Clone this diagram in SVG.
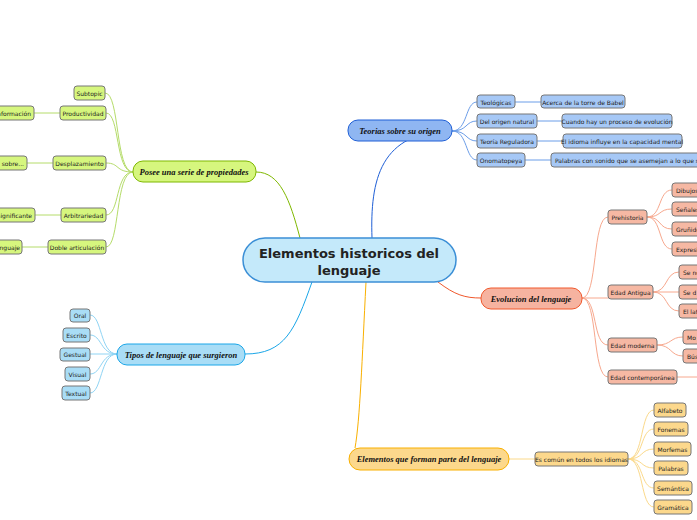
<svg xmlns="http://www.w3.org/2000/svg" width="697" height="520" viewBox="0 0 697 520">
<style>
.c{fill:none;stroke-width:1}
.t{font-family:"DejaVu Sans",sans-serif;font-size:6px;fill:#222;text-anchor:middle;dominant-baseline:central}
.s{text-anchor:start}.e{text-anchor:end}
.b{font-family:"Liberation Serif",serif;font-size:8.5px;font-style:italic;font-weight:bold;fill:#111;text-anchor:middle;dominant-baseline:central}
.n rect{stroke:#777;stroke-width:1}
.bl rect{fill:#a6c8f6}.gr rect{fill:#d6f67e}.lb rect{fill:#a9ddf6}.or rect{fill:#f6b8a3}.ye rect{fill:#fcd88c}
</style>
<rect width="697" height="520" fill="#fff"/>
<g id="connectors">
<path class="c" stroke="#1f5fd6" stroke-width="1.6" d="M372,238 C370,180 380,131 452,131"/>
<path class="c" stroke="#7fb800" stroke-width="1.6" d="M300,238 C290,200 280,172 256,172"/>
<path class="c" stroke="#1aa6e8" stroke-width="1.6" d="M312,282 C295,330 285,354 245,354"/>
<path class="c" stroke="#f0582c" stroke-width="1.6" d="M438,282 C455,295 465,298 481,298"/>
<path class="c" stroke="#f9b000" stroke-width="1.6" d="M366,282 C362,360 360,420 355,448"/>
<g stroke="#6b9de8">
<path class="c" d="M452,131 C468,131 465,102 477,102"/><path class="c" d="M452,131 C468,131 465,121 477,121"/><path class="c" d="M452,131 C468,131 465,141 477,141"/><path class="c" d="M452,131 C468,131 465,160 477,160"/>
<path class="c" d="M515,102 H541 M537,121 H562 M537,141 H563 M525,160 H551"/>
</g>
<g stroke="#b5dc6a">
<path class="c" d="M133,172 C115,172 120,93 105,93"/><path class="c" d="M133,172 C115,172 120,113 106,113"/><path class="c" d="M133,172 C115,172 120,163 106,163"/><path class="c" d="M133,172 C115,172 120,215 106,215"/><path class="c" d="M133,172 C115,172 120,247 106,247"/>
<path class="c" d="M34,113 H60 M27,163 H53 M35,215 H61 M22,247 H48"/>
</g>
<g stroke="#8fd4f4">
<path class="c" d="M117,354 C100,354 102,315 90,315"/><path class="c" d="M117,354 C100,354 102,335 90,335"/><path class="c" d="M117,354 H90"/><path class="c" d="M117,354 C100,354 102,374 90,374"/><path class="c" d="M117,354 C100,354 102,393 90,393"/>
</g>
<g stroke="#f7a88e">
<path class="c" d="M582,298 C598,298 592,217 608,217"/><path class="c" d="M582,298 H608"/><path class="c" d="M582,298 C598,298 592,345 608,345"/><path class="c" d="M582,298 C598,298 592,377 608,377"/>
<path class="c" d="M647,217 C662,217 658,190 672,190"/><path class="c" d="M647,217 C662,217 658,209 672,209"/><path class="c" d="M647,217 C662,217 658,229 672,229"/><path class="c" d="M647,217 C662,217 658,249 672,249"/>
<path class="c" d="M653,292 C668,292 665,272 679,272"/><path class="c" d="M653,292 H679"/><path class="c" d="M653,292 C668,292 665,311 679,311"/>
<path class="c" d="M657,345 C672,345 670,337 683,337"/><path class="c" d="M657,345 C672,345 670,356 683,356"/>
<path class="c" d="M677,377 H697"/>
</g>
<g stroke="#fbd98a">
<path class="c" d="M509,459 H535"/>
<path class="c" d="M628,459 C644,459 640,410 654,410"/><path class="c" d="M628,459 C644,459 640,429 654,429"/><path class="c" d="M628,459 C644,459 640,449 654,449"/><path class="c" d="M628,459 C644,459 640,468 654,468"/><path class="c" d="M628,459 C644,459 640,488 654,488"/><path class="c" d="M628,459 C644,459 640,507 654,507"/>
</g>
</g>
<g id="central"><rect x="243" y="238" width="213" height="44" rx="22" fill="#c4e9fa" stroke="#3b8fd6" stroke-width="1.5"/>
<text x="349" y="253" font-family="DejaVu Sans,sans-serif" font-size="13" font-weight="bold" fill="#222" text-anchor="middle" dominant-baseline="central">Elementos historicos del</text>
<text x="349" y="270" font-family="DejaVu Sans,sans-serif" font-size="13" font-weight="bold" fill="#222" text-anchor="middle" dominant-baseline="central">lenguaje</text></g>
<g id="teorias"><rect x="348" y="120" width="104" height="21" rx="10" fill="#8fb6f2" stroke="#1f5fd6"/><text class="b" x="400" y="131">Teorias sobre su origen</text></g>
<g id="posee"><rect x="133" y="161" width="123" height="21" rx="10" fill="#d6f67e" stroke="#7fb800"/><text class="b" x="194" y="172">Posee una serie de propiedades</text></g>
<g id="tipos"><rect x="117" y="344" width="128" height="21" rx="10" fill="#a9ddf6" stroke="#1aa6e8"/><text class="b" x="181" y="355">Tipos de lenguaje que surgieron</text></g>
<g id="evolucion"><rect x="481" y="288" width="101" height="21" rx="10" fill="#f6b3a0" stroke="#f0582c"/><text class="b" x="531" y="299">Evolucion del lenguaje</text></g>
<g id="forman"><rect x="349" y="448" width="160" height="22" rx="11" fill="#fcd88c" stroke="#f9b000"/><text class="b" x="429" y="459">Elementos que forman parte del lenguaje</text></g>
<g class="n bl">
<g id="n1"><rect x="477" y="95" width="38" height="13" rx="3"/><text class="t" x="496" y="102">Teológicas</text></g>
<g id="n2"><rect x="477" y="114" width="60" height="14" rx="3"/><text class="t" x="507" y="121">Del origen natural</text></g>
<g id="n3"><rect x="477" y="134" width="60" height="14" rx="3"/><text class="t" x="507" y="141">Teoría Reguladora</text></g>
<g id="n4"><rect x="477" y="153" width="48" height="14" rx="3"/><text class="t" x="501" y="160">Onomatopeya</text></g>
<g id="n5"><rect x="541" y="95" width="84" height="13" rx="3"/><text class="t" x="583" y="102">Acerca de la torre de Babel</text></g>
<g id="n6"><rect x="562" y="114" width="110" height="14" rx="3"/><text class="t" x="617" y="121">Cuando hay un proceso de evolución</text></g>
<g id="n7"><rect x="563" y="134" width="119" height="14" rx="3"/><text class="t" x="622" y="141">El idioma influye en la capacidad mental</text></g>
<g id="n8"><rect x="551" y="153" width="190" height="14" rx="3"/><text class="t s" x="555" y="160">Palabras con sonido que se asemejan a lo que significan</text></g>
</g>
<g class="n gr">
<g id="g1"><rect x="74" y="86" width="31" height="14" rx="3"/><text class="t" x="89.5" y="93">Subtopic</text></g>
<g id="g2"><rect x="60" y="106" width="46" height="14" rx="3"/><text class="t" x="83" y="113">Productividad</text></g>
<g id="g3"><rect x="53" y="156" width="53" height="14" rx="3"/><text class="t" x="79.5" y="163">Desplazamiento</text></g>
<g id="g4"><rect x="61" y="208" width="45" height="14" rx="3"/><text class="t" x="83.5" y="215">Arbitrariedad</text></g>
<g id="g5"><rect x="48" y="240" width="58" height="14" rx="3"/><text class="t" x="77" y="247">Doble articulación</text></g>
<g id="g6"><rect x="-20" y="106" width="54" height="14" rx="3"/><text class="t e" x="31" y="113">Información</text></g>
<g id="g7"><rect x="-20" y="156" width="47" height="14" rx="3"/><text class="t e" x="24" y="163">sobre...</text></g>
<g id="g8"><rect x="-20" y="208" width="55" height="14" rx="3"/><text class="t e" x="32" y="215">significante</text></g>
<g id="g9"><rect x="-20" y="240" width="42" height="14" rx="3"/><text class="t e" x="20" y="247">lenguaje</text></g>
</g>
<g class="n lb">
<g id="l1"><rect x="70" y="309" width="20" height="13" rx="3"/><text class="t" x="80" y="315.5">Oral</text></g>
<g id="l2"><rect x="63" y="328" width="27" height="14" rx="3"/><text class="t" x="76.5" y="335">Escrito</text></g>
<g id="l3"><rect x="60" y="348" width="30" height="13" rx="3"/><text class="t" x="75" y="354.5">Gestual</text></g>
<g id="l4"><rect x="65" y="367" width="25" height="14" rx="3"/><text class="t" x="77.5" y="374">Visual</text></g>
<g id="l5"><rect x="62" y="386" width="28" height="14" rx="3"/><text class="t" x="76" y="393">Textual</text></g>
</g>
<g class="n or">
<g id="o1"><rect x="608" y="210" width="39" height="14" rx="3"/><text class="t" x="627.5" y="217">Prehistoria</text></g>
<g id="o2"><rect x="608" y="285" width="45" height="14" rx="3"/><text class="t" x="630.5" y="292">Edad Antigua</text></g>
<g id="o3"><rect x="608" y="338" width="49" height="14" rx="3"/><text class="t" x="632.5" y="345">Edad moderna</text></g>
<g id="o4"><rect x="608" y="370" width="69" height="14" rx="3"/><text class="t" x="642.5" y="377">Edad contemporánea</text></g>
<g id="o5"><rect x="672" y="183" width="40" height="14" rx="3"/><text class="t s" x="676" y="190">Dibujos</text></g>
<g id="o6"><rect x="672" y="202" width="40" height="14" rx="3"/><text class="t s" x="676" y="209">Señales</text></g>
<g id="o7"><rect x="672" y="222" width="40" height="14" rx="3"/><text class="t s" x="676" y="229">Gruñidos</text></g>
<g id="o8"><rect x="672" y="242" width="40" height="14" rx="3"/><text class="t s" x="676" y="249">Expresiones</text></g>
<g id="o9"><rect x="679" y="265" width="40" height="14" rx="3"/><text class="t s" x="683" y="272">Se no</text></g>
<g id="o10"><rect x="679" y="285" width="40" height="14" rx="3"/><text class="t s" x="683" y="292">Se d</text></g>
<g id="o11"><rect x="679" y="304" width="40" height="14" rx="3"/><text class="t s" x="683" y="311">El lat</text></g>
<g id="o12"><rect x="683" y="330" width="40" height="14" rx="3"/><text class="t s" x="687" y="337">Mo</text></g>
<g id="o13"><rect x="683" y="349" width="40" height="14" rx="3"/><text class="t s" x="687" y="356">Bús</text></g>
</g>
<g class="n ye">
<g id="y0"><rect x="535" y="452" width="93" height="14" rx="3"/><text class="t" x="581.5" y="459">Es común en todos los idiomas</text></g>
<g id="y1"><rect x="654" y="403" width="32" height="14" rx="3"/><text class="t" x="670" y="410">Alfabeto</text></g>
<g id="y2"><rect x="654" y="422" width="34" height="14" rx="3"/><text class="t" x="671" y="429">Fonemas</text></g>
<g id="y3"><rect x="654" y="442" width="37" height="14" rx="3"/><text class="t" x="672.5" y="449">Morfemas</text></g>
<g id="y4"><rect x="654" y="461" width="34" height="14" rx="3"/><text class="t" x="671" y="468">Palabras</text></g>
<g id="y5"><rect x="654" y="481" width="38" height="14" rx="3"/><text class="t" x="673" y="488">Semántica</text></g>
<g id="y6"><rect x="654" y="500" width="38" height="14" rx="3"/><text class="t" x="673" y="507">Gramática</text></g>
</g>
</svg>
